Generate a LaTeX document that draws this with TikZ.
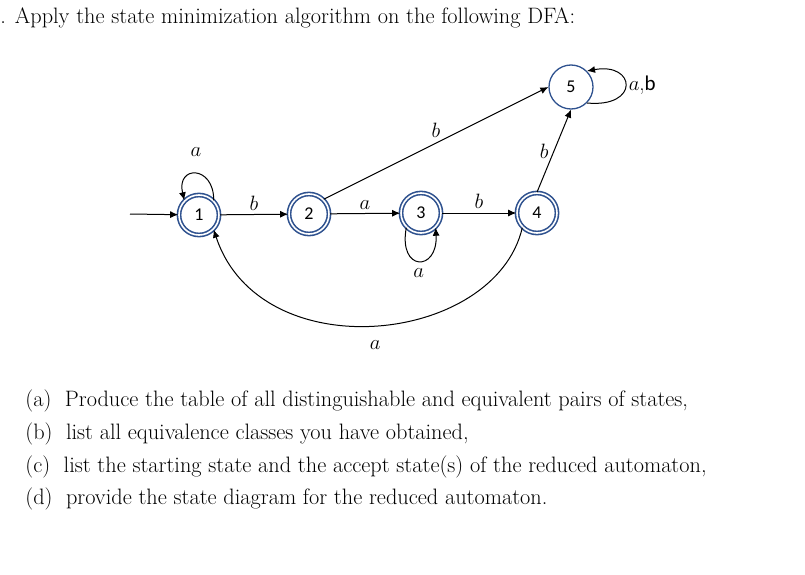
\documentclass[tikz,border=0pt]{standalone}
\usepackage{fontspec}
\newfontfamily\statefont{Carlito}
\usetikzlibrary{arrows.meta}
\tikzset{every picture/.style={line width=0.75pt}}
\tikzset{
  accst/.style={circle,draw={rgb,255:red,47;green,82;blue,143},line width=1.6pt,double=white,double distance=1.6pt,minimum size=40pt,inner sep=0pt,font=\statefont\fontsize{18}{20}\selectfont},
  plainst/.style={circle,draw={rgb,255:red,47;green,82;blue,143},line width=1.3pt,minimum size=44pt,inner sep=0pt,font=\statefont\fontsize{18}{20}\selectfont},
  trans/.style={-{Latex[length=8pt,width=7pt]},line width=1pt},
  lbl/.style={inner sep=1pt,font=\fontsize{21}{23}\selectfont},
  txt/.style={anchor=west,inner sep=0pt,font=\fontsize{22.3}{26}\selectfont}
}
\begin{document}
\begin{tikzpicture}[x=1pt,y=1pt,yscale=-1,xscale=1]
\useasboundingbox (0,0) rectangle (805,575);

% States
\node [accst] (s1) at (199,215) {1};
\node [accst] (s2) at (309,214) {2};
\node [accst] (s3) at (421,213) {3};
\node [accst] (s4) at (537,213) {4};
\node [plainst] (s5) at (571,87) {5};
\coordinate (start) at (130,214);

% Transitions
\draw [trans] (start) -- (s1);
\draw [trans] (s1) -- (s2) node [lbl,midway,above=3pt] {$b$};
\draw [trans] (s2) -- (s3) node [lbl,midway,above=3pt] {$a$};
\draw [trans] (s3) -- (s4) node [lbl,midway,above=3pt] {$b$};
\draw [trans] (s2.north east) -- (s5.west) node [lbl,midway,above=4pt] {$b$};
\draw [trans] (s4.north) -- (s5.south) node [lbl,midway,left=4pt] {$b$};
\draw [trans] (s4.south west) .. controls (495,345) and (260,370) .. (s1.south east) node [lbl,pos=0.5,below=14pt] {$a$};
\draw [trans] (s1.north east) .. controls (214,165) and (176,165) .. (s1.north west) node [lbl,pos=0.5,above=16pt] {$a$};
\draw [trans] (s3.south west) .. controls (398,272) and (438,272) .. (s3.south east) node [lbl,pos=0.5,below=6pt] {$a$};
\draw [trans] (s5.south east) .. controls (640,108) and (636,62) .. (s5.north east) node [lbl,pos=0.5,right=2pt] {$a$,\statefont b};

% Text
\node [txt] (title) at (0,18) {. Apply the state minimization algorithm on the following DFA:};
\node [txt] (qa) at (25,401) {(a)\ \ Produce the table of all distinguishable and equivalent pairs of states,};
\node [txt] (qb) at (25,434) {(b)\ \ list all equivalence classes you have obtained,};
\node [txt] (qc) at (25,467) {(c)\ \ list the starting state and the accept state(s) of the reduced automaton,};
\node [txt] (qd) at (25,499) {(d)\ \ provide the state diagram for the reduced automaton.};
\end{tikzpicture}
\end{document}
